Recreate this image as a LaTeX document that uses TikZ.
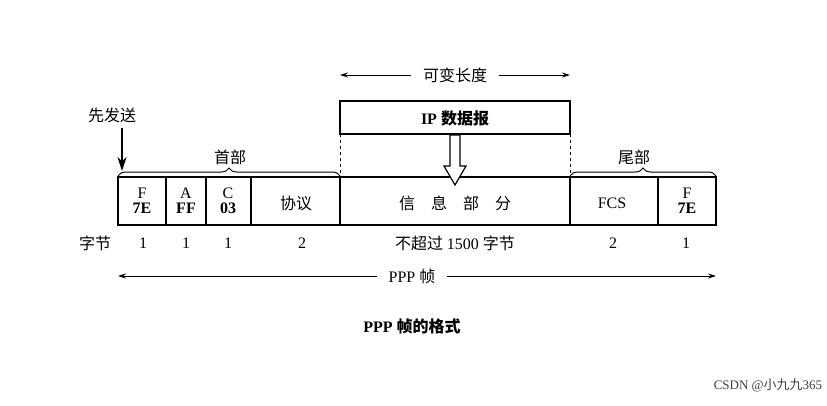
\documentclass[tikz,border=0pt]{standalone}
\usepackage{fontspec}
\setmainfont{Liberation Serif}
\newfontfamily\cjk{Noto Sans CJK SC}
\usetikzlibrary{decorations.pathreplacing,arrows.meta}
\begin{document}
\begin{tikzpicture}[x=1pt,y=-1pt,
  lbl/.style={font=\fontsize{16}{18}\selectfont},
  bl/.style={font=\fontsize{16}{18}\selectfont\bfseries},
  ln/.style={line width=1.4pt},
  arr/.style={-{Stealth[length=8pt,width=5pt]},line width=1pt}]
\useasboundingbox[fill=white] (0,0) rectangle (827,405);
% frame
\draw[ln] (118,177) rectangle (716,225);
\foreach \x in {166,206,251,340,570,658} \draw[ln] (\x,177) -- (\x,225);
\node[lbl,align=center] (f1) at (142,201) {F\\[-3pt]\textbf{7E}};
\node[lbl,align=center] (a) at (186,201) {A\\[-3pt]\textbf{FF}};
\node[lbl,align=center] (c) at (228,201) {C\\[-3pt]\textbf{03}};
\node[lbl] (pr) at (296,203) {\cjk 协议};
\node[lbl] (info) at (455,203) {\cjk 信\quad 息\quad 部\quad 分};
\node[lbl] (fcs) at (612,203) {FCS};
\node[lbl,align=center] (f2) at (687,201) {F\\[-3pt]\textbf{7E}};
% IP box
\draw[ln] (340,101) rectangle (570,134);
\node[bl] (ip) at (455,118) {IP \cjk\bfseries 数据报};
\draw[dashed,line width=0.6pt] (340,134) -- (340,177) (570,134) -- (570,177);
% hollow arrow
\draw[line width=1.2pt,fill=white] (450,135) -- (460,135) -- (460,166) -- (466,166) -- (455,185) -- (444,166) -- (450,166) -- cycle;
% braces
\draw[decorate,decoration={brace,amplitude=8pt},line width=1pt] (118,176) -- (340,176);
\node[lbl] (hd) at (230,157) {\cjk 首部};
\draw[decorate,decoration={brace,amplitude=8pt},line width=1pt] (570,176) -- (716,176);
\node[lbl] (tl) at (634,157) {\cjk 尾部};
% variable length
\node[lbl] (vl) at (455,75) {\cjk 可变长度};
\coordinate (vl1) at (340,75); \coordinate (vl2) at (570,75);
\draw[arr] (vl.west) ++(-8,0) -- (vl1);
\draw[arr] (vl.east) ++(8,0) -- (vl2);
% first sent
\node[lbl] (fs) at (112,115) {\cjk 先发送};
\coordinate (fse) at (122,171);
\draw[-{Stealth[length=14pt,width=9pt]},line width=2.2pt] (122,128) -- (fse);
% bytes row
\node[lbl] (zj) at (95,243) {\cjk 字节};
\node[lbl] at (143,243) {1};
\node[lbl] at (186,243) {1};
\node[lbl] at (228,243) {1};
\node[lbl] at (302,243) {2};
\node[lbl] at (455,243) {\cjk 不超过 \rmfamily 1500 \cjk 字节};
\node[lbl] at (613,243) {2};
\node[lbl] at (686,243) {1};
% PPP frame
\node[lbl] (ppp) at (412,276) {PPP \cjk 帧};
\coordinate (p1) at (118,276); \coordinate (p2) at (716,276);
\draw[arr] (ppp.west) ++(-8,0) -- (p1);
\draw[arr] (ppp.east) ++(8,0) -- (p2);
% title
\node[bl] (title) at (412,326) {PPP \cjk\bfseries 帧的格式};
\node[font=\fontsize{13}{15}\selectfont,text=black!75] (wm) at (768,385) {CSDN @\cjk 小九九\rmfamily 365};
\end{tikzpicture}
\end{document}
